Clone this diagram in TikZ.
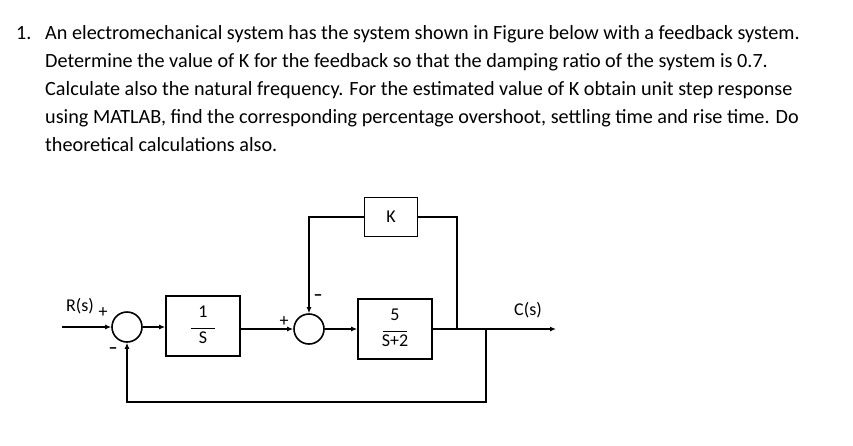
\documentclass[tikz,border=0pt]{standalone}
\usepackage{fontspec}
\setmainfont{Carlito}
\usetikzlibrary{arrows.meta}
\newcommand{\myfrac}[2]{\begin{tabular}{@{}c@{}}#1\\[-9pt]\rule{24pt}{1.4pt}\\[-7pt]#2\end{tabular}}
\begin{document}
\begin{tikzpicture}[x=1pt,y=-1pt,
  txt/.style={anchor=base west,inner sep=0pt,font=\fontsize{20.2}{24}\selectfont},
  lbl/.style={inner sep=0pt,font=\fontsize{18}{21}\selectfont},
  blk/.style={draw,line width=1.6pt,minimum width=74pt,minimum height=60pt,inner sep=0pt,font=\fontsize{18}{21}\selectfont},
  sumc/.style={draw,circle,line width=1.6pt,minimum size=30pt,inner sep=0pt},
  wire/.style={line width=1.6pt},
  arr/.style={wire,-{Latex[length=6pt,width=5pt]}}]
\useasboundingbox[fill=white] (0,0) rectangle (853,445);
\node[txt] (n1) at (16,39) {1.};
\node[txt] (l1) at (45,39) {An electromechanical system has the system shown in Figure below with a feedback system.};
\node[txt] (l2) at (45,67) {Determine the value of K for the feedback so that the damping ratio of the system is 0.7.};
\node[txt] (l3) at (45,95) {Calculate also the natural frequency. For the estimated value of K obtain unit step response};
\node[txt] (l4) at (45,123) {using MATLAB, find the corresponding percentage overshoot, settling time and rise time. Do};
\node[txt] (l5) at (45,151) {theoretical calculations also.};
% diagram
\coordinate (in) at (62,327);
\node[sumc] (s1) at (127,327) {};
\node[blk] (g1) at (203,326) {\myfrac{1}{S}};
\node[sumc] (s2) at (309,329) {};
\node[blk] (g2) at (395,329) {\myfrac{5}{S+2}};
\node[draw,line width=1.6pt,minimum width=53pt,minimum height=39pt,inner sep=0pt,lbl] (k) at (391,217) {K};
\coordinate (t1) at (457,329);
\coordinate (t2) at (486,329);
\coordinate (out) at (556,329);
\draw[arr] (in) -- (s1.west);
\draw[arr] (s1.east) -- (g1.west |- s1.east);
\draw[arr] (g1.east |- s2.west) -- (s2.west);
\draw[arr] (s2.east) -- (g2.west);
\draw[arr] (g2.east) -- (out);
\draw[wire] (t1) -- (t1 |- k.east) -- (k.east);
\draw[arr] (k.west) -- (s2.north |- k.west) -- (s2.north);
\draw[arr] (t2) -- (486,402) -- (s1.south |- 0,402) -- (s1.south);
\node[lbl] (r) at (80,306) {R(s)};
\node[lbl] (p1) at (103,313) {+};
\node[lbl] (m1) at (113,351) {\textbf{--}};
\node[lbl] (p2) at (284,322) {+};
\node[lbl] (m2) at (318,298) {\textbf{--}};
\node[lbl] (c) at (528,310) {C(s)};
\end{tikzpicture}
\end{document}
